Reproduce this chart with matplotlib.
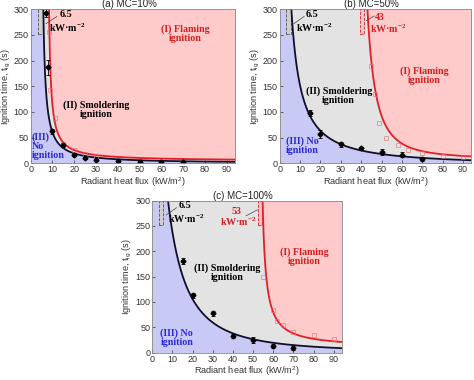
import numpy as np
import matplotlib
matplotlib.use('Agg')
import matplotlib.pyplot as plt
from matplotlib.patches import Rectangle

plt.rcParams['font.family'] = ['Liberation Sans', 'DejaVu Sans']
plt.rcParams['mathtext.fontset'] = 'custom'
plt.rcParams['mathtext.rm'] = 'Liberation Sans'
plt.rcParams['mathtext.default'] = 'regular'

# Measured ignition times (smoldering = black, flaming = red)
smol_q_a = [7, 8, 10, 15, 20, 25, 30, 40, 50, 60, 70]
smol_t_a = [292, 187, 62, 35, 17, 10, 7, 4, 3, 3, 3]
smol_e_a = [8, 15, 5, 4, 3, 2, 2, 1, 1, 1, 1]
flam_q_a = [8.5, 9, 11, 15, 20, 25, 30]
flam_t_a = [255, 143, 88, 38, 25, 18, 14]

smol_q_b = [15, 20, 30, 40, 50, 60, 70]
smol_t_b = [98, 57, 37, 29, 22, 17, 8]
smol_e_b = [5, 7, 5, 3, 5, 5, 4]
flam_q_b = [45, 47, 49, 52, 58, 63, 70, 80, 90]
flam_t_b = [190, 135, 78, 50, 35, 25, 20, 15, 13]

smol_q_c = [15, 20, 30, 40, 50, 60, 70]
smol_t_c = [180, 113, 78, 32, 25, 14, 10]
smol_e_c = [6, 5, 5, 4, 5, 4, 4]
flam_q_c = [55, 60, 62, 65, 70, 80, 90]
flam_t_c = [150, 85, 62, 55, 41, 34, 27]

# fitted curves: t = A / (q - q0)^n + c   -> (q0, A, n, c)
smol_fit = {'a': (4.5, 391, 1.1, 0), 'b': (0, 2480, 1.2, -4.7), 'c': (-10, 94900, 2, 0)}
flam_fit = {'a': (7.5, 270, 1.0, 4), 'b': (35, 19040, 2, 8), 'c': (53, 490, 1.0, 9)}

# critical heat flux labels
crit_smol = '6.5'
crit_flam = {'b': '43', 'c': '53'}
titles = {'a': '(a) MC=10%', 'b': '(b) MC=50%', 'c': '(c) MC=100%'}

blue_bg = '#c9c9f6'
red_bg = '#ffcaca'
gray_bg = '#e3e3e3'
curve_black = '#10102a'
curve_red = '#e41e26'
txt_red = '#d42020'
txt_blue = '#2a2ad8'
serif = ['Liberation Serif', 'DejaVu Serif']

fig = plt.figure(figsize=(4.74, 3.80), dpi=100)
axes = {
    'a': fig.add_axes([0.0648, 0.5703, 0.432, 0.4053]),
    'b': fig.add_axes([0.590, 0.5703, 0.404, 0.4053]),
    'c': fig.add_axes([0.3213, 0.072, 0.400, 0.4000]),
}

data = {
    'a': (smol_q_a, smol_t_a, smol_e_a, flam_q_a, flam_t_a),
    'b': (smol_q_b, smol_t_b, smol_e_b, flam_q_b, flam_t_b),
    'c': (smol_q_c, smol_t_c, smol_e_c, flam_q_c, flam_t_c),
}

xmax, ymax = 94, 300
q = np.linspace(0, xmax, 2000)


def fit_curve(q, p):
    q0, A, n, c = p
    out = np.full_like(q, np.inf)
    m = q > q0
    out[m] = A / (q[m] - q0) ** n + c
    return out


def label(ax, x, y, s, color, ha='center'):
    ax.text(x, y, s, color=color, ha=ha, va='center', fontsize=7.2,
            fontweight='bold', family=serif, linespacing=1.0)


for key, ax in axes.items():
    sq, st, se, fq, ft = data[key]
    ax.set_facecolor(gray_bg)

    ts = fit_curve(q, smol_fit[key])
    tf = fit_curve(q, flam_fit[key])
    ax.fill_between(q, 0, np.clip(ts, 0, ymax), color=blue_bg, lw=0)
    m = np.isfinite(tf)
    ax.fill_between(q[m], np.clip(tf[m], 0, ymax), ymax, color=red_bg, lw=0)

    ax.plot(q, ts, color=curve_black, lw=1.3)
    ax.plot(q[m], tf[m], color=curve_red, lw=1.3)

    ax.plot(fq, ft, 's', mfc='none', mec='#e07070', ms=3, mew=0.6, alpha=0.7)
    ax.errorbar(sq, st, yerr=se, fmt='D', color='black', ms=2.5,
                elinewidth=0.6, capsize=1.2, capthick=0.6)

    # critical heat flux markers
    ax.add_patch(Rectangle((3.3, 252), 2.2, 48, facecolor='#cfcfcf',
                           edgecolor='#555555', ls='--', lw=0.6))
    ax.plot([7, 12], [272, 286], color='#444444', lw=0.5)
    label(ax, 16, 290, crit_smol, 'black')
    label(ax, 17, 264, 'kW·m$^{-2}$', 'black')

    ax.set_xlim(0, xmax)
    ax.set_ylim(0, ymax)
    ax.set_xticks(range(0, 91, 10))
    ax.set_yticks(range(0, 301, 50))
    ax.tick_params(direction='in', length=2, width=0.5, labelsize=6.5,
                   colors='#333333', pad=1.5)
    for sp in ax.spines.values():
        sp.set_color('#888888')
        sp.set_linewidth(0.6)
    ax.set_xlabel('Radiant heat flux (kW/m$^2$)', fontsize=6.6, color='#333333', labelpad=0.5)
    ax.set_ylabel('Ignition time, t$_{ig}$ (s)', fontsize=6.6, color='#333333')
    width_px = ax.get_position().width * fig.bbox.width
    ax.yaxis.set_label_coords(-18.0 / width_px, 0.5)
    ax.set_title(titles[key], fontsize=7, x=0.48, pad=1.5, color='#222222')

# region labels
ax = axes['a']
label(ax, 71, 253, '(I) Flaming\nignition', txt_red)
label(ax, 30, 104, '(II) Smoldering\nignition', 'black')
label(ax, 0.5, 33, '(III)\nNo\nignition', txt_blue, ha='left')

ax = axes['b']
ax.add_patch(Rectangle((39.6, 252), 2.0, 48, facecolor='#e8c8c8',
                       edgecolor=curve_red, ls='--', lw=0.6))
ax.plot([42.5, 46.5], [278, 287], color='#444444', lw=0.5)
label(ax, 49, 284, crit_flam['b'], txt_red)
label(ax, 53.5, 261, 'kW·m$^{-2}$', txt_red)
label(ax, 71, 171, '(I) Flaming\nignition', txt_red)
label(ax, 29, 132, '(II) Smoldering\nignition', 'black')
label(ax, 3, 34, '(III) No\nignition', txt_blue, ha='left')

ax = axes['c']
ax.add_patch(Rectangle((52.4, 252), 1.8, 48, facecolor='#e8c8c8',
                       edgecolor=curve_red, ls='--', lw=0.6))
ax.plot([46.5, 52.2], [270, 282], color='#444444', lw=0.5)
label(ax, 41.6, 279, crit_flam['c'], txt_red)
label(ax, 42.4, 259, 'kW·m$^{-2}$', txt_red)
label(ax, 75.5, 190, '(I) Flaming\nignition', txt_red)
label(ax, 37, 158, '(II) Smoldering\nignition', 'black')
label(ax, 4, 30, '(III) No\nignition', txt_blue, ha='left')

fig.savefig('out.png', dpi=100)
